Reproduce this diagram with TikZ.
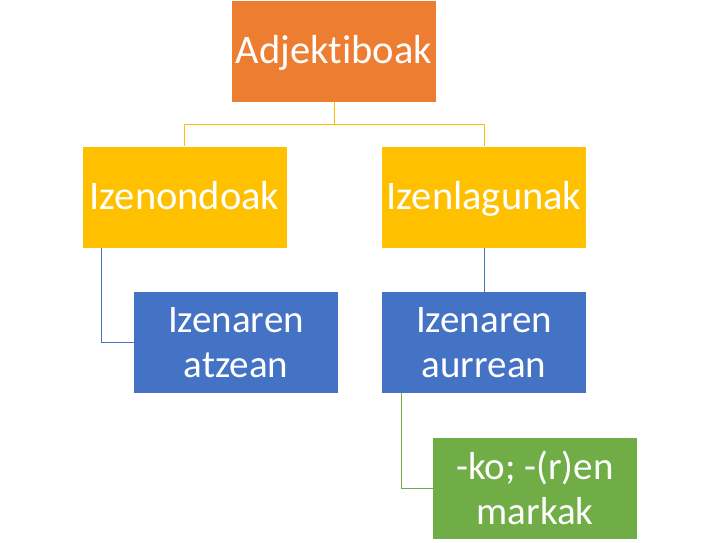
\documentclass[tikz,border=0pt]{standalone}
\usepackage{fontspec}
\setmainfont[RawFeature={-liga;-dlig}]{Carlito}
\definecolor{cOrange}{HTML}{ED7D31}
\definecolor{cGold}{HTML}{FFC000}
\definecolor{cBlue}{HTML}{4472C4}
\definecolor{cGreen}{HTML}{70AD47}
\tikzset{
  box/.style={rectangle, inner sep=0pt, minimum width=204pt, minimum height=101pt,
    text=white, align=center},
  oneline/.style={font=\fontsize{40.5}{47}\selectfont, text height=30pt, text depth=6pt},
  twoline/.style={font=\fontsize{39}{45}\selectfont},
  yline/.style={draw=cGold, line width=1pt},
  bline/.style={draw=cBlue, line width=1pt},
  gline/.style={draw=cGreen, line width=1pt},
}
\begin{document}
\begin{tikzpicture}[x=1pt,y=-1pt]
\useasboundingbox (0,0) rectangle (720,542);
\node[box, oneline, fill=cOrange] (adj) at (334,51.5) {Adjektiboak};
\node[box, oneline, fill=cGold] (izo) at (184.5,197) {Izenondoak};
\node[box, oneline, fill=cGold] (izl) at (484,197) {Izenlagunak};
\node[box, twoline, fill=cBlue] (atz) at (236,342.5) {Izenaren\\atzean};
\node[box, twoline, fill=cBlue] (aur) at (484,342.5) {Izenaren\\aurrean};
\node[box, twoline, fill=cGreen] (mark) at (535,488) {-ko; -(r)en\\markak};
\coordinate (j) at (334,124);
\draw[yline] (adj.south) -- (j) -| (izo.north);
\draw[yline] (j) -| (izl.north);
\draw[bline] ([xshift=19.5pt]izo.south west) |- (atz.west);
\draw[bline] (izl.south) -- (aur.north);
\draw[gline] ([xshift=20pt]aur.south west) |- (mark.west);
\end{tikzpicture}
\end{document}
